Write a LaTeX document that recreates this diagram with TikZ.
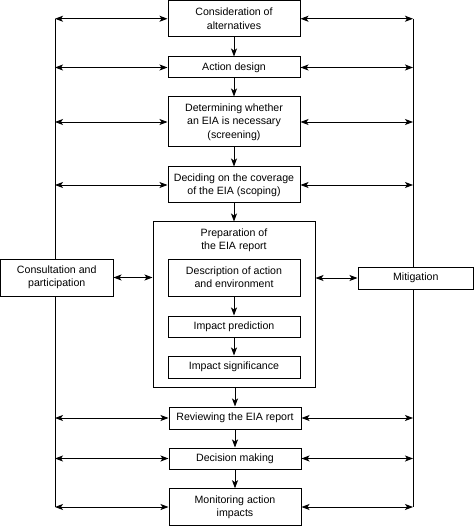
\documentclass[tikz,border=0pt]{standalone}
\usepackage{fontspec}
\setmainfont{Liberation Sans}
\usetikzlibrary{arrows.meta}
\begin{document}
\begin{tikzpicture}[x=1pt,y=-1pt,
  box/.style={draw,line width=1pt,inner sep=0pt,align=center,font=\fontsize{10.6}{13.3}\selectfont},
  arr/.style={line width=0.9pt,-{Stealth[length=8pt,width=6pt,inset=2pt]}},
  darr/.style={line width=0.9pt,{Stealth[length=8pt,width=6pt,inset=2pt]}-{Stealth[length=8pt,width=6pt,inset=2pt]}},
  ln/.style={line width=0.9pt}]
\useasboundingbox (0,0) rectangle (474,526);
\node[box,minimum width=132,minimum height=36.5] (b1) at (234,18.75) {Consideration of\\alternatives};
\node[box,minimum width=132,minimum height=21] (b2) at (234,67.5) {Action design};
\node[box,minimum width=132,minimum height=50] (b3) at (234,122) {Determining whether\\an EIA is necessary\\(screening)};
\node[box,minimum width=132,minimum height=36] (b4) at (234,185) {Deciding on the coverage\\of the EIA (scoping)};
\node[box,minimum width=162,minimum height=165] (big) at (234,304.5) {};
\node[align=center,inner sep=0pt,font=\fontsize{10.6}{13.3}\selectfont] (bigt) at (234,240) {Preparation of\\the EIA report};
\node[box,minimum width=132,minimum height=37] (i1) at (234,277.5) {Description of action\\and environment};
\node[box,minimum width=132,minimum height=21] (i2) at (234,326.5) {Impact prediction};
\node[box,minimum width=132,minimum height=22] (i3) at (234,367) {Impact significance};
\node[box,minimum width=132,minimum height=22] (b5) at (235,418) {Reviewing the EIA report};
\node[box,minimum width=132,minimum height=21] (b6) at (235,458.5) {Decision making};
\node[box,minimum width=132,minimum height=36.5] (b7) at (235,507) {Monitoring action\\impacts};
\node[box,minimum width=112.5,minimum height=37] (cons) at (56.75,277.5) {Consultation and\\participation};
\node[box,minimum width=115.5,minimum height=22] (mit) at (415.75,278) {Mitigation};
% left/right rails
\coordinate (lt) at (55,18.75);
\coordinate (lb) at (55,507);
\coordinate (rt) at (413,18.75);
\coordinate (rb) at (413,507);
\draw[ln] (lt) -- (lt |- cons.north);
\draw[ln] (lb |- cons.south) -- (lb);
\draw[ln] (rt) -- (rt |- mit.north);
\draw[ln] (rb |- mit.south) -- (rb);
% vertical flow
\draw[arr] (b1) -- (b2);
\draw[arr] (b2) -- (b3);
\draw[arr] (b3) -- (b4);
\draw[arr] (b4) -- (big);
\draw[arr] (i1) -- (i2);
\draw[arr] (i2) -- (i3);
\draw[arr] (big.south -| b5) -- (b5);
\draw[arr] (b5) -- (b6);
\draw[arr] (b6) -- (b7);
% horizontal double arrows
\foreach \b in {b1,b2,b3,b4,b5,b6,b7}{
  \draw[darr] (lt |- \b.west) -- (\b.west);
  \draw[darr] (\b.east) -- (rt |- \b.east);
}
\draw[darr] (cons.east) -- (big.west |- cons.east);
\draw[darr] (big.east |- mit.west) -- (mit.west);
\end{tikzpicture}
\end{document}
